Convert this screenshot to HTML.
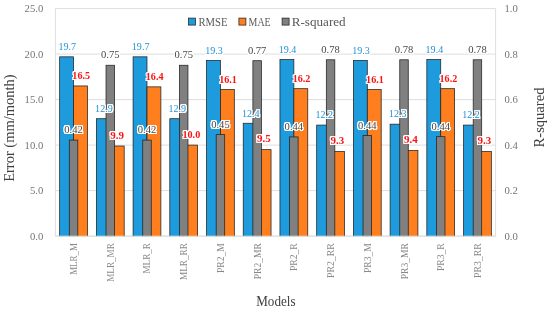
<!DOCTYPE html>
<html lang="en"><head><meta charset="utf-8"><title>Model error comparison chart</title>
<style>
html,body{margin:0;padding:0;background:#fff;}
body{width:550px;height:313px;overflow:hidden;}
svg{display:block;font-family:"Liberation Serif",serif;}
.tick{font-size:10.7px;fill:#757575;}
.cat{font-size:10.7px;fill:#898989;}
.ttl{font-size:14.3px;fill:#404040;}
.leg{font-size:11.8px;fill:#595959;}
.dl{font-size:10.7px;}
.b{fill:#2492d6;}
.m{fill:#fb1212;font-weight:bold;}
.r{fill:#484848;}
.bar{stroke:#222;stroke-width:0.75;}
</style></head><body>
<svg width="550" height="313" viewBox="0 0 550 313">
<rect x="0" y="0" width="550" height="313" fill="#fff"/>
<g stroke="#dedede" stroke-width="1" fill="none">
<line x1="55.4" y1="236.10" x2="495.6" y2="236.10"/>
<line x1="55.4" y1="190.60" x2="495.6" y2="190.60"/>
<line x1="55.4" y1="145.10" x2="495.6" y2="145.10"/>
<line x1="55.4" y1="99.60" x2="495.6" y2="99.60"/>
<line x1="55.4" y1="54.10" x2="495.6" y2="54.10"/>
<line x1="55.4" y1="8.60" x2="495.6" y2="8.60"/>
<line x1="55.4" y1="8.6" x2="55.4" y2="236.1"/>
<line x1="495.6" y1="8.6" x2="495.6" y2="236.1"/>
</g>
<defs><clipPath id="pc"><rect x="55.2" y="0" width="440.6" height="236.30"/></clipPath></defs>
<g class="bar" clip-path="url(#pc)">
<rect x="59.66" y="56.83" width="13.90" height="182.27" fill="#1e9bdc"/>
<rect x="73.56" y="85.95" width="13.90" height="153.15" fill="#ff7f1e"/>
<rect x="69.31" y="140.09" width="8.50" height="99.00" fill="#808080"/>
<rect x="96.38" y="118.71" width="13.90" height="120.39" fill="#1e9bdc"/>
<rect x="110.28" y="146.01" width="13.90" height="93.09" fill="#ff7f1e"/>
<rect x="106.03" y="65.25" width="8.50" height="173.85" fill="#808080"/>
<rect x="133.09" y="56.83" width="13.90" height="182.27" fill="#1e9bdc"/>
<rect x="146.99" y="86.86" width="13.90" height="152.24" fill="#ff7f1e"/>
<rect x="142.74" y="140.09" width="8.50" height="99.00" fill="#808080"/>
<rect x="169.81" y="118.71" width="13.90" height="120.39" fill="#1e9bdc"/>
<rect x="183.71" y="145.10" width="13.90" height="94.00" fill="#ff7f1e"/>
<rect x="179.46" y="65.25" width="8.50" height="173.85" fill="#808080"/>
<rect x="206.53" y="60.47" width="13.90" height="178.63" fill="#1e9bdc"/>
<rect x="220.43" y="89.59" width="13.90" height="149.51" fill="#ff7f1e"/>
<rect x="216.18" y="134.63" width="8.50" height="104.47" fill="#808080"/>
<rect x="243.24" y="123.26" width="13.90" height="115.84" fill="#1e9bdc"/>
<rect x="257.14" y="149.65" width="13.90" height="89.45" fill="#ff7f1e"/>
<rect x="252.89" y="60.70" width="8.50" height="178.40" fill="#808080"/>
<rect x="279.96" y="59.56" width="13.90" height="179.54" fill="#1e9bdc"/>
<rect x="293.86" y="88.68" width="13.90" height="150.42" fill="#ff7f1e"/>
<rect x="289.61" y="136.91" width="8.50" height="102.19" fill="#808080"/>
<rect x="316.68" y="125.08" width="13.90" height="114.02" fill="#1e9bdc"/>
<rect x="330.57" y="151.47" width="13.90" height="87.63" fill="#ff7f1e"/>
<rect x="326.32" y="59.79" width="8.50" height="179.31" fill="#808080"/>
<rect x="353.39" y="60.47" width="13.90" height="178.63" fill="#1e9bdc"/>
<rect x="367.29" y="89.59" width="13.90" height="149.51" fill="#ff7f1e"/>
<rect x="363.04" y="135.54" width="8.50" height="103.56" fill="#808080"/>
<rect x="390.11" y="124.17" width="13.90" height="114.93" fill="#1e9bdc"/>
<rect x="404.01" y="150.56" width="13.90" height="88.54" fill="#ff7f1e"/>
<rect x="399.76" y="59.79" width="8.50" height="179.31" fill="#808080"/>
<rect x="426.83" y="59.56" width="13.90" height="179.54" fill="#1e9bdc"/>
<rect x="440.73" y="88.68" width="13.90" height="150.42" fill="#ff7f1e"/>
<rect x="436.48" y="136.68" width="8.50" height="102.42" fill="#808080"/>
<rect x="463.54" y="125.08" width="13.90" height="114.02" fill="#1e9bdc"/>
<rect x="477.44" y="151.47" width="13.90" height="87.63" fill="#ff7f1e"/>
<rect x="473.19" y="59.79" width="8.50" height="179.31" fill="#808080"/>
</g>
<line x1="55.4" y1="236.20" x2="495.6" y2="236.20" stroke="#dedede" stroke-width="1"/>
<g class="tick" text-anchor="end">
<text x="43.3" y="239.60">0.0</text>
<text x="43.3" y="194.10">5.0</text>
<text x="43.3" y="148.60">10.0</text>
<text x="43.3" y="103.10">15.0</text>
<text x="43.3" y="57.60">20.0</text>
<text x="43.3" y="12.10">25.0</text>
</g>
<g class="tick" text-anchor="start">
<text x="504.5" y="239.60">0.0</text>
<text x="504.5" y="194.10">0.2</text>
<text x="504.5" y="148.60">0.4</text>
<text x="504.5" y="103.10">0.6</text>
<text x="504.5" y="57.60">0.8</text>
<text x="504.5" y="12.10">1.0</text>
</g>
<g class="cat" text-anchor="end">
<text transform="translate(77.06,243.2) rotate(-90)" textLength="31.6" lengthAdjust="spacingAndGlyphs">MLR_M</text>
<text transform="translate(113.78,243.2) rotate(-90)" textLength="38.6" lengthAdjust="spacingAndGlyphs">MLR_MR</text>
<text transform="translate(150.49,243.2) rotate(-90)" textLength="30.3" lengthAdjust="spacingAndGlyphs">MLR_R</text>
<text transform="translate(187.21,243.2) rotate(-90)" textLength="36.8" lengthAdjust="spacingAndGlyphs">MLR_RR</text>
<text transform="translate(223.93,243.2) rotate(-90)" textLength="29.9" lengthAdjust="spacingAndGlyphs">PR2_M</text>
<text transform="translate(260.64,243.2) rotate(-90)" textLength="36.0" lengthAdjust="spacingAndGlyphs">PR2_MR</text>
<text transform="translate(297.36,243.2) rotate(-90)" textLength="27.9" lengthAdjust="spacingAndGlyphs">PR2_R</text>
<text transform="translate(334.07,243.2) rotate(-90)" textLength="34.8" lengthAdjust="spacingAndGlyphs">PR2_RR</text>
<text transform="translate(370.79,243.2) rotate(-90)" textLength="29.9" lengthAdjust="spacingAndGlyphs">PR3_M</text>
<text transform="translate(407.51,243.2) rotate(-90)" textLength="36.0" lengthAdjust="spacingAndGlyphs">PR3_MR</text>
<text transform="translate(444.23,243.2) rotate(-90)" textLength="27.9" lengthAdjust="spacingAndGlyphs">PR3_R</text>
<text transform="translate(480.94,243.2) rotate(-90)" textLength="34.8" lengthAdjust="spacingAndGlyphs">PR3_RR</text>
</g>
<g class="ttl" text-anchor="middle">
<text x="275.85" y="306.2" textLength="39.3" lengthAdjust="spacingAndGlyphs">Models</text>
<text transform="translate(14,128.15) rotate(-90)" textLength="107.3" lengthAdjust="spacingAndGlyphs">Error (mm/month)</text>
<text transform="translate(543.8,117.5) rotate(-90)" textLength="59.8" lengthAdjust="spacingAndGlyphs">R-squared</text>
</g>
<g class="bar">
<rect x="188.5" y="18.1" width="7" height="7" fill="#1e9bdc"/>
<rect x="238.9" y="18.1" width="7" height="7" fill="#ff7f1e"/>
<rect x="282.1" y="18.1" width="7" height="7" fill="#808080"/>
</g>
<g class="leg">
<text x="198.4" y="25.6" textLength="29" lengthAdjust="spacingAndGlyphs">RMSE</text>
<text x="248.6" y="25.6" textLength="22.1" lengthAdjust="spacingAndGlyphs">MAE</text>
<text x="291.7" y="25.6" textLength="54" lengthAdjust="spacingAndGlyphs">R-squared</text>
</g>
<defs><filter id="halo" x="-2%" y="-5%" width="104%" height="110%" color-interpolation-filters="sRGB"><feMorphology in="SourceAlpha" operator="dilate" radius="1" result="d"/><feGaussianBlur in="d" stdDeviation="0.7" result="b"/><feFlood flood-color="#fff" result="f"/><feComposite in="f" in2="b" operator="in" result="g"/><feMerge><feMergeNode in="g"/><feMergeNode in="g"/><feMergeNode in="g"/><feMergeNode in="SourceGraphic"/></feMerge></filter></defs>
<g class="dl" text-anchor="middle" filter="url(#halo)">
<text class="b" x="67.21" y="50.13" textLength="17.6" lengthAdjust="spacingAndGlyphs">19.7</text>
<text class="b" x="103.92" y="112.01" textLength="17.6" lengthAdjust="spacingAndGlyphs">12.9</text>
<text class="b" x="140.64" y="50.13" textLength="17.6" lengthAdjust="spacingAndGlyphs">19.7</text>
<text class="b" x="177.36" y="112.01" textLength="17.6" lengthAdjust="spacingAndGlyphs">12.9</text>
<text class="b" x="214.08" y="53.77" textLength="17.6" lengthAdjust="spacingAndGlyphs">19.3</text>
<text class="b" x="250.79" y="116.56" textLength="17.6" lengthAdjust="spacingAndGlyphs">12.4</text>
<text class="b" x="287.51" y="52.86" textLength="17.6" lengthAdjust="spacingAndGlyphs">19.4</text>
<text class="b" x="324.23" y="118.38" textLength="17.6" lengthAdjust="spacingAndGlyphs">12.2</text>
<text class="b" x="360.94" y="53.77" textLength="17.6" lengthAdjust="spacingAndGlyphs">19.3</text>
<text class="b" x="397.66" y="117.47" textLength="17.6" lengthAdjust="spacingAndGlyphs">12.3</text>
<text class="b" x="434.38" y="52.86" textLength="17.6" lengthAdjust="spacingAndGlyphs">19.4</text>
<text class="b" x="471.09" y="118.38" textLength="17.6" lengthAdjust="spacingAndGlyphs">12.2</text>
<text class="r" x="73.56" y="133.09" textLength="18.5" lengthAdjust="spacingAndGlyphs">0.42</text>
<text class="r" x="110.28" y="58.25" textLength="18.5" lengthAdjust="spacingAndGlyphs">0.75</text>
<text class="r" x="146.99" y="133.09" textLength="18.5" lengthAdjust="spacingAndGlyphs">0.42</text>
<text class="r" x="183.71" y="58.25" textLength="18.5" lengthAdjust="spacingAndGlyphs">0.75</text>
<text class="r" x="220.43" y="127.63" textLength="18.5" lengthAdjust="spacingAndGlyphs">0.45</text>
<text class="r" x="257.14" y="53.70" textLength="18.5" lengthAdjust="spacingAndGlyphs">0.77</text>
<text class="r" x="293.86" y="129.91" textLength="18.5" lengthAdjust="spacingAndGlyphs">0.44</text>
<text class="r" x="330.57" y="52.79" textLength="18.5" lengthAdjust="spacingAndGlyphs">0.78</text>
<text class="r" x="367.29" y="128.54" textLength="18.5" lengthAdjust="spacingAndGlyphs">0.44</text>
<text class="r" x="404.01" y="52.79" textLength="18.5" lengthAdjust="spacingAndGlyphs">0.78</text>
<text class="r" x="440.73" y="129.68" textLength="18.5" lengthAdjust="spacingAndGlyphs">0.44</text>
<text class="r" x="477.44" y="52.79" textLength="18.5" lengthAdjust="spacingAndGlyphs">0.78</text>
<text class="m" x="81.21" y="79.25" textLength="17.7" lengthAdjust="spacingAndGlyphs">16.5</text>
<text class="m" x="117.13" y="138.81" textLength="13.7" lengthAdjust="spacingAndGlyphs">9.9</text>
<text class="m" x="154.64" y="80.16" textLength="17.7" lengthAdjust="spacingAndGlyphs">16.4</text>
<text class="m" x="191.36" y="138.40" textLength="17.7" lengthAdjust="spacingAndGlyphs">10.0</text>
<text class="m" x="228.07" y="82.89" textLength="17.7" lengthAdjust="spacingAndGlyphs">16.1</text>
<text class="m" x="263.99" y="142.45" textLength="13.7" lengthAdjust="spacingAndGlyphs">9.5</text>
<text class="m" x="301.51" y="81.98" textLength="17.7" lengthAdjust="spacingAndGlyphs">16.2</text>
<text class="m" x="337.42" y="144.27" textLength="13.7" lengthAdjust="spacingAndGlyphs">9.3</text>
<text class="m" x="374.94" y="82.89" textLength="17.7" lengthAdjust="spacingAndGlyphs">16.1</text>
<text class="m" x="410.86" y="143.36" textLength="13.7" lengthAdjust="spacingAndGlyphs">9.4</text>
<text class="m" x="448.38" y="81.98" textLength="17.7" lengthAdjust="spacingAndGlyphs">16.2</text>
<text class="m" x="484.29" y="144.27" textLength="13.7" lengthAdjust="spacingAndGlyphs">9.3</text>
</g>
</svg></body></html>
